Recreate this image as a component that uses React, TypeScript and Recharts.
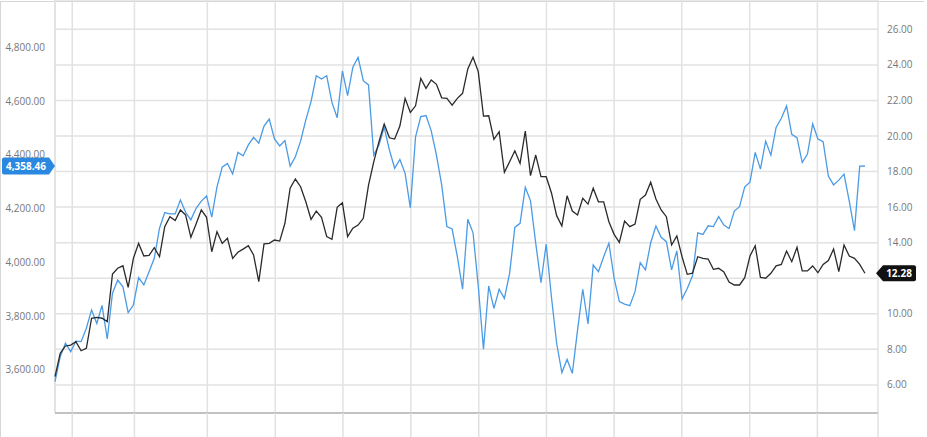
import React from 'react';
import { LineChart, Line, XAxis, YAxis, CartesianGrid, ReferenceLine } from 'recharts';

const indexValues: number[] = [
  3556, 3649, 3699, 3668, 3707, 3705, 3755, 3823, 3773, 3840,
  3715, 3885, 3934, 3909, 3813, 3841, 3943, 3916, 3965, 4015,
  4127, 4185, 4180, 4180, 4232, 4186, 4158, 4201, 4228, 4247,
  4168, 4281, 4354, 4368, 4329, 4409, 4396, 4437, 4465, 4443,
  4507, 4533, 4459, 4433, 4453, 4358, 4393, 4451, 4530, 4598,
  4694, 4682, 4694, 4595, 4538, 4712, 4620, 4726, 4763, 4676,
  4660, 4399, 4437, 4502, 4418, 4350, 4383, 4331, 4203, 4467,
  4542, 4546, 4489, 4399, 4288, 4133, 4124, 4021, 3900, 4160,
  4110, 3912, 3677, 3912, 3829, 3900, 3866, 3959, 4130, 4145,
  4279, 4229, 4071, 3924, 4068, 3872, 3699, 3590, 3639, 3587,
  3748, 3900, 3771, 3990, 3965, 4021, 4071, 3941, 3854, 3845,
  3839, 3891, 3999, 3972, 4073, 4135, 4093, 4077, 3972, 4043,
  3864, 3903, 3950, 4110, 4104, 4136, 4133, 4170, 4139, 4126,
  4191, 4207, 4281, 4298, 4409, 4347, 4451, 4399, 4502, 4536,
  4582, 4476, 4464, 4371, 4403, 4515, 4459, 4449, 4321, 4288,
  4306, 4328, 4228, 4118, 4358, 4358.46,
];

const volValues: number[] = [
  6.46, 7.78, 8.19, 8.24, 8.43, 7.92, 8.06, 9.75, 9.8, 9.75,
  9.56, 12.24, 12.56, 12.7, 11.49, 13.12, 13.96, 13.25, 13.29, 13.72,
  13.21, 14.9, 15.46, 15.24, 15.84, 15.55, 14.3, 15.05, 15.84, 15.43,
  13.49, 14.62, 13.96, 14.25, 13.12, 13.46, 13.64, 13.83, 13.31, 11.81,
  13.93, 13.96, 14.15, 14.09, 15.09, 17.06, 17.58, 17.15, 16.3, 15.31,
  15.78, 15.43, 14.34, 14.19, 15.99, 16.25, 14.34, 14.81, 14.99, 15.37,
  17.24, 18.55, 19.68, 20.67, 19.9, 19.83, 20.56, 22.12, 21.33, 21.7,
  23.24, 22.68, 23.15, 22.91, 22.15, 22.12, 21.74, 22.12, 22.4, 23.77,
  24.43, 23.62, 21.12, 21.14, 19.81, 20.24, 17.96, 18.55, 19.17, 18.46,
  20.28, 17.77, 18.93, 17.71, 17.71, 16.81, 15.52, 14.94, 16.64, 15.78,
  15.56, 16.5, 16.17, 17.06, 16.3, 16.3, 15.18, 14.47, 14.02, 15.22,
  14.9, 15.05, 16.44, 16.68, 17.4, 16.46, 15.84, 15.46, 13.87, 14.38,
  13.21, 12.22, 12.28, 13.21, 13.12, 13.08, 12.5, 12.56, 12.35, 11.79,
  11.62, 11.62, 12.03, 13.25, 13.83, 12.05, 12.0, 12.28, 12.7, 12.78,
  13.53, 12.93, 13.74, 12.41, 12.41, 12.69, 12.31, 12.78, 12.99, 13.64,
  12.37, 13.87, 13.25, 13.12, 12.78, 12.28,
];

const leftTicks: number[] = [3600, 3800, 4000, 4200, 4400, 4600, 4800];
const rightTicks: number[] = [6, 8, 10, 12, 14, 16, 18, 20, 22, 24, 26];
const periodTicks: number[] = [3.3, 15.2, 29.15, 42.15, 55.1, 68.1, 81.1, 94.05, 107, 119.95, 132.95, 145.9, 157.5];

const leftDomain: [number, number] = [3439.6, 4976];
const rightDomain: [number, number] = [4.42, 27.65];
const xDomain: [number, number] = [0, 157.5];

const data = indexValues.map((v, i) => ({ i, index: v, vol: volValues[i] }));
const lastIndex = indexValues[indexValues.length - 1];
const lastVol = volValues[volValues.length - 1];

const FONT = "'Open Sans', 'DejaVu Sans', sans-serif";
const fmt = (v: number) =>
  v.toLocaleString('en-US', { minimumFractionDigits: 2, maximumFractionDigits: 2 });

const LeftBadge = (props: any) => {
  const vb = props.viewBox || {};
  const tip = vb.x;
  const cy = vb.y;
  const h = 17;
  const top = cy - h / 2;
  const left = tip - 53;
  const d = `M${left + 2},${top} L${tip - 6},${top} L${tip},${cy} L${tip - 6},${top + h} L${left + 2},${top + h} Q${left},${top + h} ${left},${top + h - 2} L${left},${top + 2} Q${left},${top} ${left + 2},${top} Z`;
  return (
    <g>
      <path d={d} fill="#2b88e0" />
      <text x={left + 24} y={cy} dy="0.36em" textAnchor="middle" fill="#fff" fontSize={10} fontWeight={700} fontFamily={FONT}>
        {fmt(lastIndex)}
      </text>
    </g>
  );
};

const RightBadge = (props: any) => {
  const vb = props.viewBox || {};
  const tip = vb.x + vb.width - 2;
  const cy = vb.y;
  const h = 16;
  const top = cy - h / 2;
  const right = tip + 40;
  const d = `M${tip},${cy} L${tip + 7},${top} L${right - 2},${top} Q${right},${top} ${right},${top + 2} L${right},${top + h - 2} Q${right},${top + h} ${right - 2},${top + h} L${tip + 7},${top + h} Z`;
  return (
    <g>
      <path d={d} fill="#111" />
      <text x={tip + 23} y={cy} dy="0.36em" textAnchor="middle" fill="#fff" fontSize={10} fontWeight={700} fontFamily={FONT}>
        {fmt(lastVol)}
      </text>
    </g>
  );
};

// right tick labels; the one hidden under the last-value badge is not drawn
const RightTick = (props: any) => {
  const { x, y, payload } = props;
  if (Math.abs(payload.value - lastVol) < 0.6) return <g />;
  return (
    <text x={x} y={y} dy="0.355em" textAnchor="start" fill="#777" fontSize={10} fontFamily={FONT}>
      {fmt(payload.value)}
    </text>
  );
};

// period labels fall below the visible frame; only the tick lines are seen
const NoTick = () => <g />;

export default function App() {
  return (
    <div style={{ position: 'absolute', left: 0, top: 0, width: 927, height: 437, overflow: 'hidden', background: '#fff' }}>
      <div
        style={{
          position: 'absolute', left: 0, top: 1, width: 924, height: 460,
          borderTop: '1px solid #d6d6d6', borderLeft: '1px solid #d6d6d6', boxSizing: 'border-box',
        }}
      />
      <div style={{ position: 'absolute', left: 0, top: 0 }}>
        <LineChart width={927} height={437} data={data} margin={{ top: 0, right: 0, bottom: 0, left: 0 }}>
          <CartesianGrid yAxisId="right" stroke="#e2e2e2" strokeWidth={1.5} />
          <XAxis
            dataKey="i"
            type="number"
            domain={xDomain}
            ticks={periodTicks}
            interval={0}
            height={24}
            tickSize={24}
            tickLine={{ stroke: '#e0e0e0', strokeWidth: 1.5 }}
            tick={<NoTick />}
            axisLine={{ stroke: '#c2c2c2', strokeWidth: 2 }}
          />
          <YAxis
            yAxisId="left"
            orientation="left"
            width={55}
            domain={leftDomain}
            ticks={leftTicks}
            interval={0}
            allowDataOverflow
            axisLine={false}
            tickLine={false}
            tickSize={0}
            tickMargin={10}
            tickFormatter={fmt}
            tick={{ fill: '#777', fontSize: 10, fontFamily: FONT }}
          />
          <YAxis
            yAxisId="right"
            orientation="right"
            width={49}
            domain={rightDomain}
            ticks={rightTicks}
            interval={0}
            allowDataOverflow
            axisLine={false}
            tickLine={false}
            tickSize={0}
            tickMargin={9}
            tick={<RightTick />}
          />
          <ReferenceLine yAxisId="right" x={0} stroke="#e0e0e0" strokeWidth={1.5} />
          <Line
            yAxisId="left"
            type="linear"
            dataKey="index"
            stroke="#4a9be6"
            strokeWidth={1.3}
            dot={false}
            activeDot={false}
            isAnimationActive={false}
          />
          <Line
            yAxisId="right"
            type="linear"
            dataKey="vol"
            stroke="#2a2a2a"
            strokeWidth={1.3}
            dot={false}
            activeDot={false}
            isAnimationActive={false}
          />
          <ReferenceLine yAxisId="left" y={lastIndex} stroke="none" label={<LeftBadge />} />
          <ReferenceLine yAxisId="right" y={lastVol} stroke="none" label={<RightBadge />} />
        </LineChart>
      </div>
    </div>
  );
}
